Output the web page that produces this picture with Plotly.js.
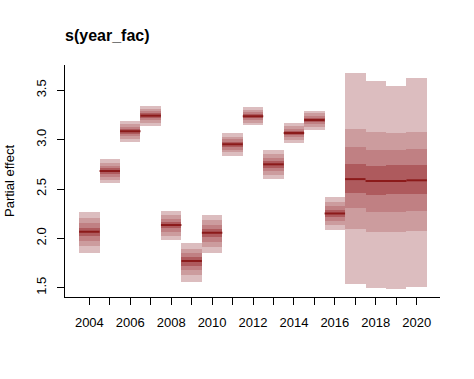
<!DOCTYPE html>
<html>
<head>
<meta charset="utf-8">
<script src="https://cdn.plot.ly/plotly-3.0.1.min.js"></script>
<style>html,body{margin:0;padding:0;background:#fff;}#chart{width:474px;height:379px;}</style>
</head>
<body>
<div id="chart"></div>
<script>
// Years (factor levels)
const years = [2004,2005,2006,2007,2008,2009,2010,2011,2012,2013,2014,2015,2016,2017,2018,2019,2020];
// Estimated partial effect
const estimate = [2.067,2.682,3.085,3.243,2.135,1.771,2.057,2.953,3.237,2.750,3.067,3.199,2.252,2.600,2.581,2.581,2.588];
// Outermost interval
const outerLo = [1.855,2.558,2.973,3.141,1.983,1.561,1.855,2.834,3.145,2.601,2.969,3.098,2.085,1.537,1.494,1.484,1.504];
const outerHi = [2.264,2.804,3.192,3.341,2.280,1.950,2.237,3.064,3.328,2.895,3.166,3.293,2.414,3.672,3.594,3.547,3.628];
// Second interval
const midLo = [1.919,2.595,3.007,3.172,2.029,1.624,1.916,2.870,3.173,2.646,2.998,3.128,2.135,2.092,2.067,2.067,2.078];
const midHi = [2.205,2.767,3.160,3.312,2.237,1.896,2.183,3.031,3.301,2.852,3.136,3.265,2.365,3.105,3.080,3.070,3.080];
// Third interval
const innerLo = [1.972,2.626,3.035,3.197,2.067,1.677,1.966,2.899,3.196,2.683,3.023,3.154,2.177,2.304,2.270,2.270,2.280];
const innerHi = [2.156,2.737,3.133,3.287,2.200,1.852,2.138,3.003,3.278,2.815,3.112,3.241,2.325,2.926,2.892,2.898,2.905];
// Innermost interval
const coreLo = [2.020,2.655,3.060,3.221,2.102,1.725,2.013,2.927,3.217,2.717,3.045,3.177,2.215,2.463,2.439,2.449,2.449];
const coreHi = [2.110,2.709,3.109,3.265,2.167,1.810,2.097,2.977,3.257,2.782,3.089,3.220,2.288,2.750,2.736,2.743,2.743];
// Tick labels
const xTickVals = years;
const xTickText = ["2004","","2006","","2008","","2010","","2012","","2014","","2016","","2018","","2020"];
const yTickVals = [1.5,2.0,2.5,3.0,3.5];
const yTickText = ["1.5","2.0","2.5","3.0","3.5"];

function band(lo, hi, color) {
  return {
    type: 'bar', x: years, base: lo, y: hi.map((h, i) => h - lo[i]),
    width: 1, marker: {color: color, line: {width: 0}},
    hoverinfo: 'skip', showlegend: false
  };
}

const segX = [], segY = [];
years.forEach((yr, i) => {
  segX.push(yr - 0.5, yr + 0.5, null);
  segY.push(estimate[i], estimate[i], null);
});

const data = [
  band(outerLo, outerHi, '#dcbdbf'),
  band(midLo, midHi, '#cc9c9e'),
  band(innerLo, innerHi, '#c08083'),
  band(coreLo, coreHi, '#ae5a5d'),
  {type: 'scatter', mode: 'lines', x: segX, y: segY,
   line: {color: '#8b1a1a', width: 2}, hoverinfo: 'skip', showlegend: false}
];

const font = {family: 'Liberation Sans, Arial, sans-serif', size: 13, color: '#000'};

const layout = {
  width: 474, height: 379,
  margin: {l: 65, r: 34, t: 65, b: 82},
  paper_bgcolor: '#fff', plot_bgcolor: '#fff',
  barmode: 'overlay', bargap: 0,
  font: font,
  title: {text: '<b>s(year_fac)</b>', font: {family: 'Liberation Sans, Arial, sans-serif', size: 16, color: '#000'},
          x: 65/474, xref: 'container', xanchor: 'left', y: 1 - 35/379, yref: 'container', yanchor: 'middle'},
  xaxis: {
    range: [2002.81, 2021.14], showgrid: false, zeroline: false,
    showline: true, linecolor: '#000', linewidth: 1,
    ticks: 'outside', ticklen: 7, tickwidth: 1, tickcolor: '#000',
    tickvals: xTickVals, ticktext: xTickText, ticklabelstandoff: 6,
    tickfont: font, fixedrange: true
  },
  yaxis: {
    range: [1.406, 3.756], showgrid: false, zeroline: false,
    showline: true, linecolor: '#000', linewidth: 1,
    ticks: 'outside', ticklen: 7, tickwidth: 1, tickcolor: '#000',
    tickvals: yTickVals, ticktext: yTickText, tickangle: -90, ticklabelstandoff: 6,
    tickfont: font, fixedrange: true,
    title: {text: 'Partial effect', font: font, standoff: 16}
  }
};

Plotly.newPlot('chart', data, layout, {staticPlot: true, displayModeBar: false});
</script>
</body>
</html>
